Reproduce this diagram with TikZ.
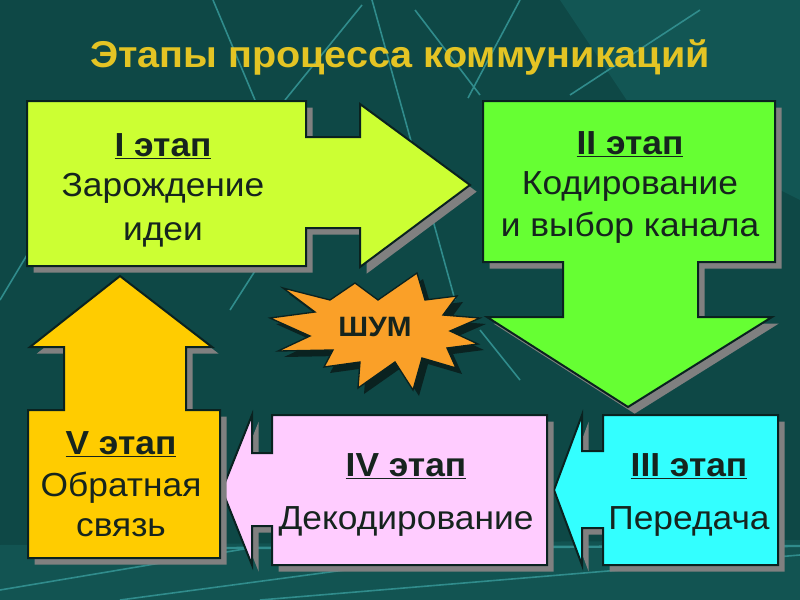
\documentclass[tikz,border=0pt]{standalone}
\usepackage{fontspec}
\setmainfont{Liberation Sans}[FakeStretch=1.06]
\usetikzlibrary{shadows}
\definecolor{bgteal}{RGB}{14,72,70}
\definecolor{bglight}{RGB}{22,96,94}
\definecolor{bgline}{RGB}{48,140,140}
\definecolor{titlegold}{RGB}{228,196,36}
\definecolor{outlinedark}{RGB}{10,34,32}
\definecolor{shadowgrey}{RGB}{128,128,128}
\definecolor{stageone}{RGB}{204,255,51}
\definecolor{stagetwo}{RGB}{102,255,51}
\definecolor{stagethree}{RGB}{51,255,255}
\definecolor{stagefour}{RGB}{255,204,255}
\definecolor{stagefive}{RGB}{255,204,0}
\definecolor{noiseorange}{RGB}{250,160,40}
\definecolor{textdark}{RGB}{22,36,30}
\newcommand{\stagehead}[1]{{\fontsize{25}{30}\selectfont\bfseries\underline{#1}}}

\begin{document}
\begin{tikzpicture}[
  x=0.75pt, y=-0.75pt,
  blockarrow/.style={draw=outlinedark, line width=1.5pt, line join=miter,
    drop shadow={shadow xshift=5pt, shadow yshift=-5pt, fill=shadowgrey, opacity=1}},
  burst/.style={draw=outlinedark, line width=1pt, fill=noiseorange,
    drop shadow={shadow xshift=4.5pt, shadow yshift=-4.5pt, fill=outlinedark, opacity=1}},
  stagetext/.style={anchor=north, inner sep=0pt, align=center, text=textdark,
    font=\fontsize{25}{33}\selectfont},
  bgstroke/.style={bgline, line width=1.2pt}
]

% background
\fill[bgteal] (0,0) rectangle (800,600);
\useasboundingbox (0,0) rectangle (800,600);
\fill[bglight, opacity=0.6] (560,0) -- (800,0) -- (800,200) -- (640,120) -- cycle;
\fill[bglight, opacity=0.5] (0,545) -- (800,540) -- (800,600) -- (0,600) -- cycle;
\draw[bgstroke] (372,0) -- (455,300);
\draw[bgstroke] (213,0) -- (255,100);
\draw[bgstroke] (362,5) -- (285,100);
\draw[bgstroke] (415,10) -- (480,95);
\draw[bgstroke] (700,10) -- (570,95);
\draw[bgstroke] (520,0) -- (468,98);
\draw[bgstroke] (0,300) -- (30,250);
\draw[bgstroke] (230,310) -- (262,260);
\draw[bgstroke] (480,330) -- (520,380);
\draw[bgstroke] (0,590) -- (250,548);
\draw[bgstroke] (260,600) -- (800,555);
\draw[bgstroke] (120,600) -- (420,560);
\draw[bgstroke, line width=1.8pt] (220,548) -- (800,546);

% title
\node[anchor=base, text=titlegold, font=\fontsize{28}{32}\selectfont\bfseries] (title) at (400,67) {Этапы процесса коммуникаций};

% block arrows
\draw[blockarrow, fill=stageone] (27,101) -- (306,101) -- (306,137) -- (360,137) -- (360,104)
  -- (470,185) -- (360,267) -- (360,228) -- (306,228) -- (306,266) -- (27,266) -- cycle;
\draw[blockarrow, fill=stagetwo] (483,101) -- (775,101) -- (775,262) -- (698,262) -- (698,317)
  -- (772,317) -- (628,407) -- (487,317) -- (563,317) -- (563,262) -- (483,262) -- cycle;
\draw[blockarrow, fill=stagethree] (603,415) -- (778,415) -- (778,565) -- (603,565) -- (603,528)
  -- (582,528) -- (582,565) -- (554,490) -- (582,415) -- (582,451) -- (603,451) -- cycle;
\draw[blockarrow, fill=stagefour] (272,415) -- (547,415) -- (547,565) -- (272,565) -- (272,526)
  -- (252,526) -- (252,565) -- (222,490) -- (252,415) -- (252,453) -- (272,453) -- cycle;
\draw[blockarrow, fill=stagefive] (28,410) -- (64,410) -- (64,347) -- (30,347) -- (120,276)
  -- (212,347) -- (186,347) -- (186,410) -- (220,410) -- (220,558) -- (28,558) -- cycle;

% noise burst
\draw[burst] (417,273) -- (425,300) -- (457,296) -- (443,315) -- (480,318) -- (450,331)
  -- (478,344) -- (447,348) -- (456,368) -- (422,358) -- (413,390) -- (395,362)
  -- (358,388) -- (360,362) -- (324,367) -- (333,350) -- (278,351) -- (310,336)
  -- (270,318) -- (315,312) -- (283,288) -- (330,300) -- (355,283) -- (378,300) -- cycle;
\node[text=textdark, font=\fontsize{21}{24}\selectfont\bfseries] (noise) at (375,327) {ШУМ};

% stage texts
\node[stagetext] (stageI) at (163,133) {\stagehead{I этап}\\[-3pt]Зарождение\\идеи};
\node[stagetext] (stageII) at (630,131) {\stagehead{II этап}\\[-3pt]Кодирование\\[-1pt]и выбор канала};
\node[stagetext] (stageIII) at (689,453) {\stagehead{III этап}\\[7pt]Передача};
\node[stagetext] (stageIV) at (406,453) {\stagehead{IV этап}\\[7pt]Декодирование};
\node[stagetext] (stageV) at (121,431) {\stagehead{V этап}\\[-1pt]Обратная\\[-3pt]связь};

\end{tikzpicture}
\end{document}
